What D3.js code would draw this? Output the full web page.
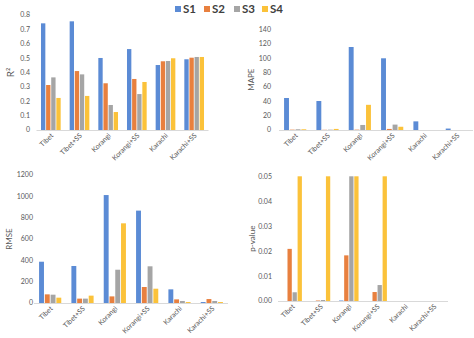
<!DOCTYPE html>
<html>
<head>
<meta charset="utf-8">
<script src="https://cdn.jsdelivr.net/npm/d3@7"></script>
<style>
  html, body { margin: 0; padding: 0; background: #fff; }
  svg { display: block; font-family: Lato, "Open Sans", sans-serif; }
  .tick-label { fill: #595959; font-size: 7px; }
  .axis-title { fill: #595959; font-size: 8px; }
  .legend-text { fill: #404040; font-size: 11.5px; font-weight: bold; }
</style>
</head>
<body>
<svg id="chart" width="474" height="338"></svg>
<script>
// categorias y series
const categories = ['Tibet', 'Tibet+SS', 'Korangi', 'Korangi+SS', 'Karachi', 'Karachi+SS'];
const series = ['S1', 'S2', 'S3', 'S4'];
const colors = ['#5b8bd5', '#e8803f', '#a5a5a5', '#fbc23a'];

// valores por serie (una fila por S1..S4, una columna por categoria)
const r2 = [
  [0.742, 0.756, 0.501, 0.563, 0.452, 0.492],
  [0.313, 0.410, 0.325, 0.355, 0.478, 0.503],
  [0.366, 0.387, 0.174, 0.250, 0.480, 0.508],
  [0.223, 0.237, 0.125, 0.334, 0.499, 0.508]
];
const mape = [
  [44.5, 40.3, 115.4, 99.7, 12, 2],
  [0.5, 0.3, 0.5, 1.5, 0, 0],
  [1, 0.5, 7, 7.5, 0, 0],
  [1, 1.5, 35, 4.5, 0, 0]
];
const rmse = [
  [387, 347, 1012, 866, 128, 9],
  [81, 41, 62, 150, 34, 37],
  [78, 41, 312, 344, 19, 19],
  [50, 69, 747, 134, 9, 9]
];
const pValue = [
  [0, 0, 0.0002, 0, 0, 0],
  [0.0209, 0.0002, 0.0183, 0.0036, 0, 0],
  [0.0035, 0.0004, 0.05, 0.0064, 0, 0],
  [0.05, 0.05, 0.05, 0.05, 0, 0]
];

// ticks del eje y
const r2Ticks = [0, 0.1, 0.2, 0.3, 0.4, 0.5, 0.6, 0.7, 0.8];
const mapeTicks = [0, 20, 40, 60, 80, 100, 120, 140];
const rmseTicks = [0, 200, 400, 600, 800, 1000, 1200];
const pTicks = [0, 0.01, 0.02, 0.03, 0.04, 0.05];

const svg = d3.select('#chart');

// paneles: datos + donde va cada uno
const panels = [
  { values: r2, ticks: r2Ticks, title: 'R²', titleSize: 10, fmt: d => d === 0 ? '0' : d3.format('.1f')(d),
    xr: [36.5, 208.5], yr: [130, 15], labelX: 30, titleX: 10 },
  { values: mape, ticks: mapeTicks, title: 'MAPE', titleSize: 8, fmt: d3.format('d'),
    xr: [279, 473], yr: [130, 29.3], labelX: 271, titleX: 251 },
  { values: rmse, ticks: rmseTicks, title: 'RMSE', titleSize: 8, fmt: d3.format('d'),
    xr: [34, 228], yr: [303, 175], labelX: 33, titleX: 9 },
  { values: pValue, ticks: pTicks, title: 'p-value', titleSize: 8, fmt: d3.format('.2f'),
    xr: [278, 448], yr: [301, 176.3], labelX: 272, titleX: 252 }
];

panels.forEach(p => {
  const g = svg.append('g');
  const x0 = d3.scaleBand().domain(categories).range(p.xr).paddingInner(0.26).paddingOuter(0.13);
  const x1 = d3.scaleBand().domain(series).range([0, x0.bandwidth()]).padding(0.15);
  const y = d3.scaleLinear().domain([0, d3.max(p.ticks)]).range(p.yr);

  // eje x (linea base)
  g.append('line')
    .attr('x1', p.xr[0]).attr('x2', p.xr[1])
    .attr('y1', y(0) + 0.5).attr('y2', y(0) + 0.5)
    .attr('stroke', '#d9d9d9').attr('stroke-width', 1);

  // etiquetas del eje y
  g.selectAll('.ytick')
    .data(p.ticks)
    .enter()
    .append('text')
    .attr('class', 'tick-label')
    .attr('x', p.labelX)
    .attr('y', d => y(d))
    .attr('dy', '0.35em')
    .attr('text-anchor', 'end')
    .text(p.fmt);

  // titulo del eje y
  g.append('text')
    .attr('class', 'axis-title')
    .style('font-size', p.titleSize + 'px')
    .attr('transform', `translate(${p.titleX},${(p.yr[0] + p.yr[1]) / 2}) rotate(-90)`)
    .attr('text-anchor', 'middle')
    .attr('dy', '0.35em')
    .text(p.title);

  // barras
  series.forEach((s, si) => {
    g.selectAll('.bar-' + s)
      .data(p.values[si])
      .enter()
      .append('rect')
      .attr('x', (d, ci) => x0(categories[ci]) + x1(s))
      .attr('y', d => y(d))
      .attr('width', x1.bandwidth())
      .attr('height', d => y(0) - y(d))
      .attr('fill', colors[si]);
  });

  // etiquetas del eje x, giradas
  g.selectAll('.xlabel')
    .data(categories)
    .enter()
    .append('text')
    .attr('class', 'tick-label')
    .attr('text-anchor', 'end')
    .attr('transform', d => `translate(${x0(d) + x0.bandwidth() / 2 + 3},${y(0) + 6}) rotate(-45)`)
    .text(d => d);
});

// leyenda
const legendX = [175, 204, 234, 262];
const legend = svg.selectAll('.legend')
  .data(series)
  .enter()
  .append('g')
  .attr('transform', (d, i) => `translate(${legendX[i]},4)`);

legend.append('rect')
  .attr('width', 6)
  .attr('height', 6)
  .attr('y', 2)
  .attr('fill', (d, i) => colors[i]);

legend.append('text')
  .attr('class', 'legend-text')
  .attr('x', 8)
  .attr('y', 5)
  .attr('dy', '0.35em')
  .text(d => d);
</script>
</body>
</html>
